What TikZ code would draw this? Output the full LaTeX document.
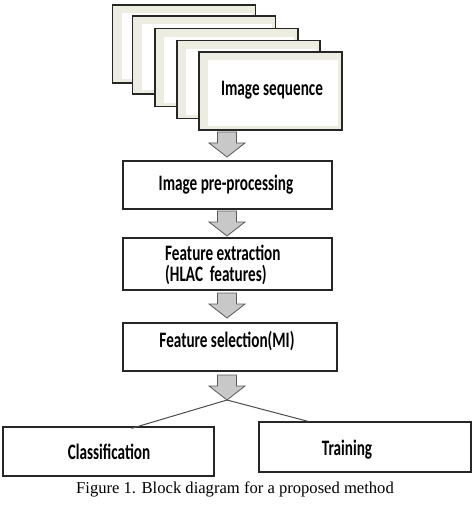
\documentclass[tikz,border=0pt]{standalone}
\usepackage{fontspec}
\setmainfont{Liberation Serif}
\newfontfamily\boxfont{Carlito}
\newcommand\tall[1]{\scalebox{1}[1.45]{#1}}
\definecolor{framebg}{RGB}{236,237,224}
\definecolor{arrowfill}{RGB}{200,200,200}
\definecolor{arrowline}{RGB}{90,90,90}
\begin{document}
\begin{tikzpicture}[x=1pt,y=-1pt,
  frame/.style={draw=black!85, line width=1.3pt, fill=framebg, minimum width=143pt, minimum height=78pt, inner sep=0pt},
  inner/.style={fill=white, draw=none, minimum width=130pt, minimum height=66pt, inner sep=0pt},
  stepbox/.style={draw=black!85, line width=1.3pt, fill=white, inner sep=0pt},
  lbl/.style={font=\boxfont\bfseries\fontsize{15.2}{18}\selectfont, inner sep=0pt},
  barrow/.style={fill=arrowfill, draw=arrowline, line width=0.8pt, line join=miter},
  link/.style={draw=black!70, line width=1pt}]
\useasboundingbox (0,0) rectangle (474,505);
% stacked image frames
\foreach \i/\x/\y in {1/184/44, 2/204/55, 3/226.5/67.5, 4/248.5/79.5, 5/270.5/91}{
  \node[frame] (f\i) at (\x,\y) {};
  \node[inner] (fi\i) at (\x+2.5,\y+2.5) {};
}
\node[lbl] (seq) at (272,90) {\tall{Image sequence}};
% steps
\node[stepbox, minimum width=209pt, minimum height=48pt] (pre) at (227.5,185) {};
\node[lbl] (pret) at (226,185) {\tall{Image pre-processing}};
\node[stepbox, minimum width=209pt, minimum height=52pt] (fe) at (227.5,264) {};
\node[lbl, anchor=west] (fet1) at (165,253) {\tall{Feature extraction}};
\node[lbl, anchor=west] (fet2) at (165,275) {\tall{(HLAC\ \ features)}};
\node[stepbox, minimum width=214pt, minimum height=48pt] (fs) at (230,347) {};
\node[lbl] (fst) at (227,341) {\tall{Feature selection(MI)}};
\node[stepbox, minimum width=211pt, minimum height=49pt] (cls) at (108.5,451.5) {};
\node[lbl] (clst) at (109,452) {\tall{Classification}};
\node[stepbox, minimum width=212pt, minimum height=50pt] (trn) at (365,447) {};
\node[lbl] (trnt) at (347,450) {\tall{Training}};
% block arrows
\newcommand\blockarrow[2]{%
  \draw[barrow] (#1-9.5,#2) -- (#1+9.5,#2) -- (#1+9.5,#2+11) -- (#1+18,#2+11)
    -- (#1,#2+25) -- (#1-18,#2+11) -- (#1-9.5,#2+11) -- cycle;}
\blockarrow{227}{132}
\blockarrow{227}{211}
\blockarrow{227}{293}
\blockarrow{227}{375}
\coordinate (split) at (227,400);
\draw[link] (split) -- ([xshift=23pt,yshift=-2pt]cls.north);
\draw[link] (split) -- ([xshift=-57pt]trn.north);
% caption
\node[font=\fontsize{16.6}{19}\selectfont, inner sep=0pt] (cap) at (235,489) {Figure 1. Block diagram for a proposed method};
\end{tikzpicture}
\end{document}
